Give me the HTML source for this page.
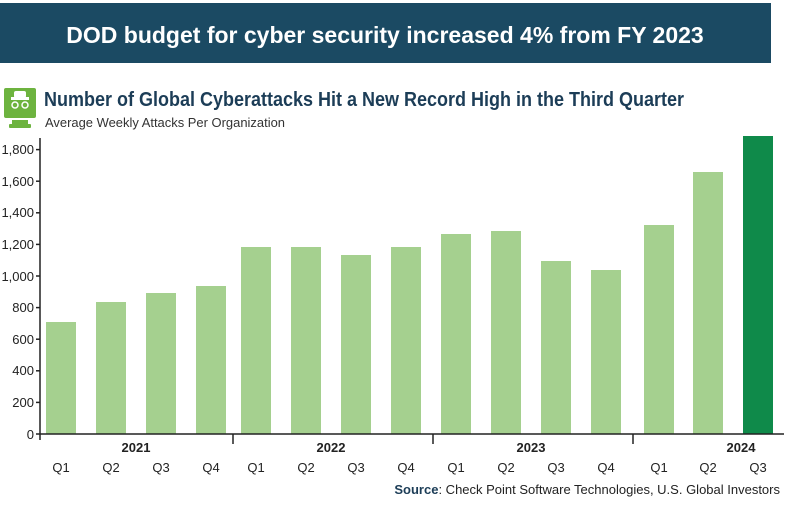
<!DOCTYPE html>
<html><head><style>
body{margin:0;background:#fff;width:794px;height:500px;overflow:hidden}
</style></head><body>
<svg width="794" height="500" xmlns="http://www.w3.org/2000/svg" font-family="Liberation Sans, sans-serif">
<rect x="0" y="3" width="771" height="60" fill="#1b4a63"/>
<text x="385" y="43" text-anchor="middle" fill="#fff" font-size="23" font-weight="bold">DOD budget for cyber security increased 4% from FY 2023</text>
<!-- icon -->
<rect x="4" y="88" width="32" height="30" rx="2" fill="#6db33f"/>
<rect x="12" y="120" width="16" height="4" fill="#6db33f"/>
<rect x="9" y="124" width="22" height="4" rx="1" fill="#6db33f"/>
<rect x="14" y="91" width="12" height="7" rx="2" fill="#fff"/>
<rect x="11" y="97" width="18" height="3" fill="#fff"/>
<circle cx="15" cy="105" r="3" fill="none" stroke="#fff" stroke-width="1.5"/>
<circle cx="25" cy="105" r="3" fill="none" stroke="#fff" stroke-width="1.5"/>
<text x="44" y="106" fill="#1c3d57" font-size="20.5" font-weight="bold" textLength="640" lengthAdjust="spacingAndGlyphs">Number of Global Cyberattacks Hit a New Record High in the Third Quarter</text>
<text x="45" y="127" fill="#333" font-size="13" textLength="240" lengthAdjust="spacingAndGlyphs">Average Weekly Attacks Per Organization</text>
<g fill="#a5d08f">
<rect x="46" y="322" width="30" height="112"/>
<rect x="96" y="302" width="30" height="132"/>
<rect x="146" y="293" width="30" height="141"/>
<rect x="196" y="286" width="30" height="148"/>
<rect x="241" y="247" width="30" height="187"/>
<rect x="291" y="247" width="30" height="187"/>
<rect x="341" y="255" width="30" height="179"/>
<rect x="391" y="247" width="30" height="187"/>
<rect x="441" y="234" width="30" height="200"/>
<rect x="491" y="231" width="30" height="203"/>
<rect x="541" y="261" width="30" height="173"/>
<rect x="591" y="270" width="30" height="164"/>
<rect x="644" y="225" width="30" height="209"/>
<rect x="693" y="172" width="30" height="262"/>
</g>
<rect x="743" y="136" width="30" height="298" fill="#0f8a4a"/>
<g stroke="#222" stroke-width="1.5">
<line x1="40" y1="138" x2="40" y2="440"/>
<line x1="40" y1="434" x2="784" y2="434"/>
<line x1="233" y1="434" x2="233" y2="444"/>
<line x1="433" y1="434" x2="433" y2="444"/>
<line x1="633" y1="434" x2="633" y2="444"/>
<line x1="36" y1="434" x2="40" y2="434"/><line x1="36" y1="402.4" x2="40" y2="402.4"/><line x1="36" y1="370.8" x2="40" y2="370.8"/><line x1="36" y1="339.2" x2="40" y2="339.2"/><line x1="36" y1="307.6" x2="40" y2="307.6"/><line x1="36" y1="276" x2="40" y2="276"/><line x1="36" y1="244.4" x2="40" y2="244.4"/><line x1="36" y1="212.8" x2="40" y2="212.8"/><line x1="36" y1="181.2" x2="40" y2="181.2"/><line x1="36" y1="149.6" x2="40" y2="149.6"/>
</g>
<g font-size="13" fill="#222" text-anchor="end">
<text x="34" y="439">0</text><text x="34" y="407">200</text><text x="34" y="375">400</text><text x="34" y="344">600</text><text x="34" y="312">800</text><text x="34" y="281">1,000</text><text x="34" y="249">1,200</text><text x="34" y="217">1,400</text><text x="34" y="186">1,600</text><text x="34" y="154">1,800</text>
</g>
<g font-size="13" font-weight="bold" fill="#222" text-anchor="middle">
<text x="136" y="452">2021</text><text x="331" y="452">2022</text><text x="531" y="452">2023</text><text x="741" y="452">2024</text>
</g>
<g font-size="13" fill="#222" text-anchor="middle">
<text x="61" y="472">Q1</text><text x="111" y="472">Q2</text><text x="161" y="472">Q3</text><text x="211" y="472">Q4</text>
<text x="256" y="472">Q1</text><text x="306" y="472">Q2</text><text x="356" y="472">Q3</text><text x="406" y="472">Q4</text>
<text x="456" y="472">Q1</text><text x="506" y="472">Q2</text><text x="556" y="472">Q3</text><text x="606" y="472">Q4</text>
<text x="659" y="472">Q1</text><text x="708" y="472">Q2</text><text x="758" y="472">Q3</text>
</g>
<text x="780" y="494" text-anchor="end" font-size="13" fill="#222"><tspan font-weight="bold" fill="#1c3d57">Source</tspan>: Check Point Software Technologies, U.S. Global Investors</text>
</svg>
</body></html>
